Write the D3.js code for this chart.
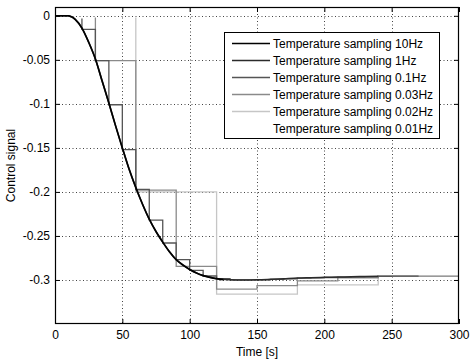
<!DOCTYPE html>
<html><head><meta charset="utf-8">
<script src="https://cdn.jsdelivr.net/npm/d3@7"></script>
<style>body{margin:0;background:#fff}svg{display:block}text{font-family:"Liberation Sans",Arial,sans-serif}</style>
</head><body>
<svg id="c" width="474" height="364"></svg>
<script>
// ---- data ----
const xTicks = [0, 50, 100, 150, 200, 250, 300];
const yTicks = [0, -0.05, -0.1, -0.15, -0.2, -0.25, -0.3];
const yTickLabels = ["0", "-0.05", "-0.1", "-0.15", "-0.2", "-0.25", "-0.3"];
const seriesNames = ["Temperature sampling 10Hz", "Temperature sampling 1Hz", "Temperature sampling 0.1Hz",
  "Temperature sampling 0.03Hz", "Temperature sampling 0.02Hz", "Temperature sampling 0.01Hz"];
const seriesColors = ["#000000", "#2b2b2b", "#555555", "#8a8a8a", "#c6c6c6", "#ffffff"];

// 10 Hz: smooth response
const t10Hz = [0, 10, 15, 20, 25, 30, 35, 40, 45, 50, 55, 60, 65, 70, 75, 80, 85, 90, 95, 100, 105, 110, 115, 120, 125];
const v10Hz = [0, 0, -0.004, -0.014, -0.03, -0.049, -0.074, -0.099, -0.125, -0.15, -0.174, -0.195, -0.214, -0.231, -0.245, -0.257, -0.268, -0.277, -0.283, -0.288, -0.292, -0.295, -0.297, -0.2985, -0.2995];
// 1 Hz: nearly identical, runs longer
const t1Hz = [10, 15, 20, 25, 30, 35, 40, 45, 50, 55, 60, 65, 70, 75, 80, 85, 90, 95, 100, 105, 110, 115, 120, 130, 140, 150, 160, 170, 180, 190, 200, 210, 220, 230, 240];
const v1Hz = [0, -0.004, -0.014, -0.03, -0.049, -0.074, -0.099, -0.125, -0.15, -0.174, -0.195, -0.214, -0.231, -0.245, -0.257, -0.268, -0.277, -0.283, -0.288, -0.292, -0.295, -0.297, -0.2985, -0.2997, -0.3, -0.2998, -0.2992, -0.2985, -0.2978, -0.2974, -0.297, -0.2967, -0.2963, -0.296, -0.2958];
// step series: step instants, levels (first = level before first step), end time
const t01Hz = [20, 30, 40, 50, 60, 70, 80, 90, 100, 110, 120, 130, 140, 150, 160, 170, 180, 190, 200, 210, 220, 230, 240, 250, 260];
const v01Hz = [-0.003, -0.0155, -0.051, -0.101, -0.152, -0.197, -0.232, -0.258, -0.277, -0.289, -0.2955, -0.2985, -0.2998, -0.3, -0.2998, -0.2993, -0.2987, -0.298, -0.2976, -0.2972, -0.2968, -0.2964, -0.2961, -0.2958, -0.2957, -0.2956];
const end01Hz = 270;
const t003Hz = [30, 60, 90, 120, 150, 180, 210, 240, 270];
const v003Hz = [-0.002, -0.051, -0.198, -0.2845, -0.3105, -0.3065, -0.301, -0.2975, -0.2957, -0.2957];
const end003Hz = 300;
const t002Hz = [60, 120, 180, 240];
const v002Hz = [-0.002, -0.2, -0.316, -0.3055, -0.296];
const end002Hz = 300;

// ---- layout ----
const L = 55, R = 459, T = 7, B = 324;
const svg = d3.select("#c");
const x = d3.scaleLinear().domain([0, 300]).range([L, R]);
const y = d3.scaleLinear().domain([-0.35, 0.01]).range([B, T]);

// grid
const g = svg.append("g").attr("stroke", "#444").attr("stroke-width", 1).attr("stroke-dasharray", "1,2.5");
g.selectAll(".gx").data(xTicks.filter(d => d > 0 && d < 300)).enter().append("line")
  .attr("x1", d => Math.round(x(d)) + 0.5).attr("x2", d => Math.round(x(d)) + 0.5).attr("y1", T).attr("y2", B);
g.selectAll(".gy").data(yTicks).enter().append("line")
  .attr("y1", d => Math.round(y(d)) + 0.5).attr("y2", d => Math.round(y(d)) + 0.5).attr("x1", L).attr("x2", R);

// data
const smooth = d3.line().x(d => x(d[0])).y(d => y(d[1])).curve(d3.curveMonotoneX);
const step = d3.line().x(d => x(d[0])).y(d => y(d[1])).curve(d3.curveStepAfter);
function stepPts(ts, vs, end) {
  const p = [[ts[0], vs[0]]];
  ts.forEach((t, i) => p.push([t, vs[i + 1]]));
  p.push([end, vs[vs.length - 1]]);
  return p;
}
const dg = svg.append("g").attr("fill", "none");
dg.append("path").attr("d", step(stepPts(t002Hz, v002Hz, end002Hz))).attr("stroke", seriesColors[4]).attr("stroke-width", 1.3);
dg.append("path").attr("d", step(stepPts(t003Hz, v003Hz, end003Hz))).attr("stroke", seriesColors[3]).attr("stroke-width", 1.3);
dg.append("path").attr("d", step(stepPts(t01Hz, v01Hz, end01Hz))).attr("stroke", seriesColors[2]).attr("stroke-width", 1.3);
dg.append("path").attr("d", smooth(t1Hz.map((t, i) => [t, v1Hz[i]]))).attr("stroke", seriesColors[1]).attr("stroke-width", 1.5);
dg.append("path").attr("d", smooth(t10Hz.map((t, i) => [t, v10Hz[i]]))).attr("stroke", seriesColors[0]).attr("stroke-width", 1.7);

// box + ticks
svg.append("rect").attr("x", L + 0.5).attr("y", T + 0.5).attr("width", R - L - 1).attr("height", B - T - 1)
  .attr("fill", "none").attr("stroke", "#000").attr("stroke-width", 1.2);
const axB = d3.axisBottom(x).tickValues(xTicks).tickSize(-5).tickPadding(6).tickFormat(d3.format("d"));
const axL = d3.axisLeft(y).tickValues(yTicks).tickSize(-5).tickPadding(5).tickFormat((d, i) => yTickLabels[i]);
const axT = d3.axisTop(x).tickValues(xTicks).tickSize(-5).tickFormat("");
const axR = d3.axisRight(y).tickValues(yTicks).tickSize(-5).tickFormat("");
[[axB, `translate(0,${B})`], [axL, `translate(${L},0)`], [axT, `translate(0,${T})`], [axR, `translate(${R},0)`]].forEach(([a, tr]) => {
  const ga = svg.append("g").attr("transform", tr).call(a);
  ga.select(".domain").remove();
  ga.selectAll("text").attr("font-size", 12).attr("fill", "#000").style("font-family", "'Liberation Sans',Arial,sans-serif");
  ga.selectAll("line").attr("stroke", "#000");
});

// labels
svg.append("text").attr("x", (L + R) / 2).attr("y", 356).attr("text-anchor", "middle").attr("font-size", 12).text("Time [s]");
svg.append("text").attr("transform", `translate(15,${(T + B) / 2}) rotate(-90)`).attr("text-anchor", "middle").attr("font-size", 12).text("Control signal");

// legend
const lg = svg.append("g");
lg.append("rect").attr("x", 224.5).attr("y", 32.5).attr("width", 215).attr("height", 106).attr("fill", "#fff").attr("stroke", "#000").attr("stroke-width", 1);
seriesNames.forEach((n, i) => {
  const yy = 43.5 + i * 17;
  lg.append("line").attr("x1", 232).attr("x2", 270).attr("y1", yy).attr("y2", yy).attr("stroke", seriesColors[i]).attr("stroke-width", 1.3);
  lg.append("text").attr("x", 273).attr("y", yy + 4.3).attr("font-size", 12).text(n);
});
</script>
</body></html>
